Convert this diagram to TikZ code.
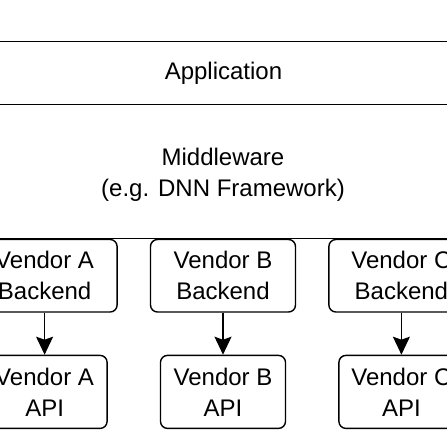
\documentclass[tikz,border=0pt]{standalone}
\usepackage{fontspec}
\setmainfont{Liberation Sans}
\usepackage{tikz}
\usetikzlibrary{positioning,arrows.meta}
\tikzset{backend node/.style={rectangle,rounded corners=7pt,draw,line width=1.4pt,minimum width=145pt,minimum height=72.5pt,inner sep=0pt,align=center,font=\fontsize{24}{31}\selectfont},}
\tikzset{api node/.style={backend node,minimum width=125pt,minimum height=73pt},}
\tikzset{layer node/.style={rectangle,minimum width=500pt,inner sep=0pt,align=center,font=\fontsize{24}{31}\selectfont},}

\begin{document}
\begin{tikzpicture}[x=1pt,y=-1pt]
       \useasboundingbox (0,0) rectangle (447,447);
       \clip (0,0) rectangle (447,447);
       \node[layer node,minimum height=62.6pt] (app) at (223.5,73) {Application};
       \node[layer node] (mid) at (223,175) {Middleware\\(e.g. DNN Framework)};
       \node[backend node] (bb) at (223,275.75) {Vendor B\\Backend};
       \node[backend node] (ba) [left = 32pt of bb]{Vendor A\\Backend};
       \node[backend node] (bc) [right = 32pt of bb]{Vendor C\\Backend};
       \node[api node] (ab) [below = 42pt of bb]{Vendor B\\API};
       \node[api node] (aa) [below = 42pt of ba]{Vendor A\\API};
       \node[api node] (ac) [below = 42pt of bc]{Vendor C\\API};

       \draw[line width=1.3pt] (app.north west) -- (app.north east)
             (app.south west) -- (app.south east)
             (ba.north west) -- (bc.north east);
       \draw[line width=1.4pt,-{Stealth[length=18pt,width=17pt,inset=3pt]}]
             (ba) -- (aa);
       \draw[line width=1.4pt,-{Stealth[length=18pt,width=17pt,inset=3pt]}]
             (bb) -- (ab);
       \draw[line width=1.4pt,-{Stealth[length=18pt,width=17pt,inset=3pt]}]
             (bc) -- (ac);
\end{tikzpicture}
\end{document}
